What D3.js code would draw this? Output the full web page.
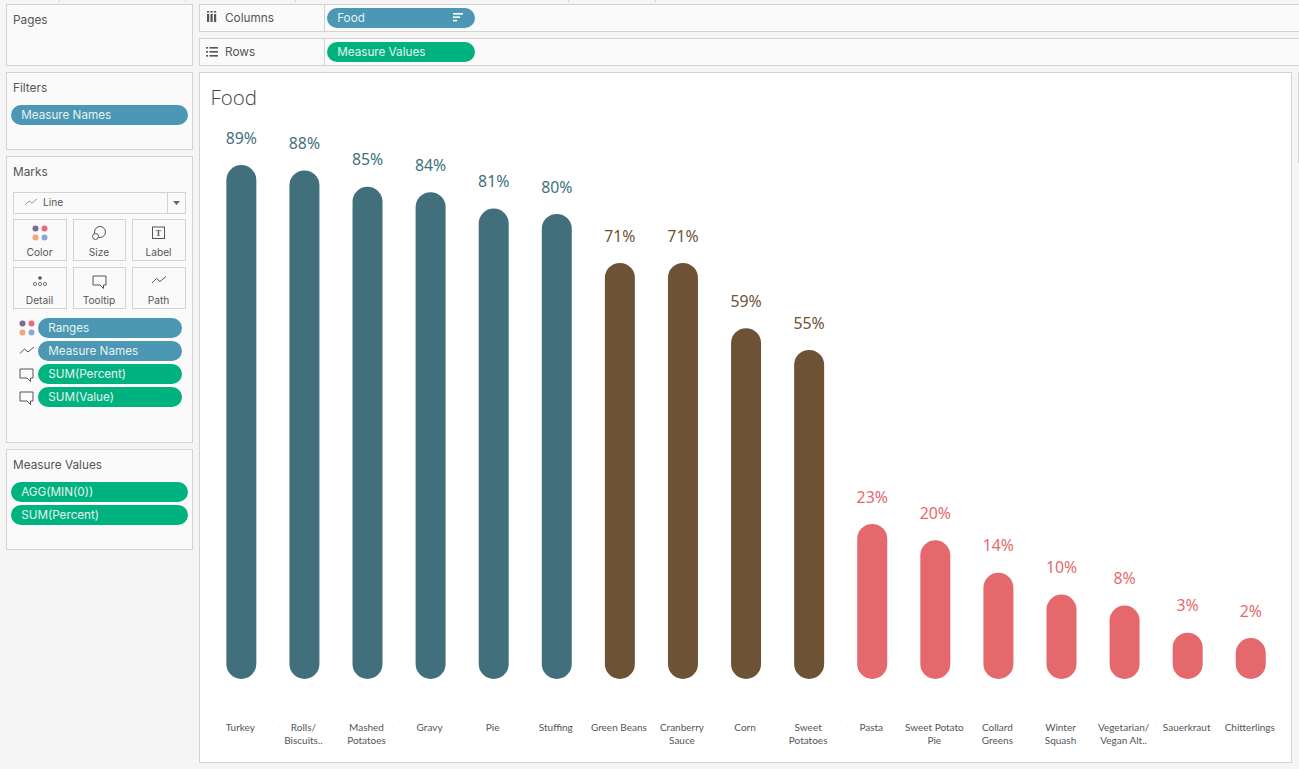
<!DOCTYPE html>
<html><head><meta charset="utf-8">
<script src="https://cdn.jsdelivr.net/npm/d3@7"></script>
<style>
html,body{margin:0;padding:0;background:#f5f5f5;overflow:hidden}
svg{display:block}
text{font-family:Inter,"Noto Sans",sans-serif}
.ui{font-size:11.8px;fill:#555}
.pill{font-size:11.7px;fill:#e6f3f0}
.card{font-size:10.2px;fill:#555;text-anchor:middle}
.value{font-family:"Noto Sans",sans-serif;font-size:15.8px;text-anchor:middle}
.cat{font-family:Lato,sans-serif;font-size:10px;fill:#555;text-anchor:middle}
</style></head><body>
<svg id="c" width="1299" height="769"></svg>
<script>
const categories = ["Turkey","Rolls/\nBiscuits..","Mashed\nPotatoes","Gravy","Pie","Stuffing","Green Beans","Cranberry\nSauce","Corn","Sweet\nPotatoes","Pasta","Sweet Potato\nPie","Collard\nGreens","Winter\nSquash","Vegetarian/\nVegan Alt..","Sauerkraut","Chitterlings"];
const percent = [89,88,85,84,81,80,71,71,59,55,23,20,14,10,8,3,2];
const lowerBound = [0,0,0,0,0,0,0,0,0,0,0,0,0,0,0,0,0];
const ranges = ["High","High","High","High","High","High","Mid","Mid","Mid","Mid","Low","Low","Low","Low","Low","Low","Low"];
const rangeNames = ["High","Mid","Low"];
const rangeColors = ["#41707c","#6e5235","#e5696c"];

const svg = d3.select("#c");
const BLUE="#4b97b4", GREEN="#00b27f", BORDER="#d3d3d3", PANEL="#fafafa";

function box(x0,y0,x1,y1,fill){
  svg.append("rect").attr("x",x0).attr("y",y0).attr("width",x1-x0).attr("height",y1-y0)
    .attr("fill",fill||PANEL).attr("stroke",BORDER).attr("stroke-width",1);
}
function pill(x0,y0,x1,label,color){
  svg.append("rect").attr("x",x0).attr("y",y0).attr("width",x1-x0).attr("height",20).attr("rx",10).attr("fill",color);
  svg.append("text").attr("class","pill").attr("x",x0+10.2).attr("y",y0+14.2).text(label);
}
function label(x,y,t){ svg.append("text").attr("class","ui").attr("x",x).attr("y",y).text(t); }

// top ruler remnants
[59,185,295,568,655].forEach(x=>svg.append("line").attr("x1",x+.5).attr("x2",x+.5).attr("y1",0).attr("y2",2).attr("stroke",BORDER));

// shelves
box(6.5,4.5,192.5,65.5); label(13,24,"Pages");
box(199.5,4.5,1305,31.5); box(199.5,38.5,1305,65.5);
svg.append("line").attr("x1",324.5).attr("x2",324.5).attr("y1",5).attr("y2",31).attr("stroke",BORDER);
svg.append("line").attr("x1",324.5).attr("x2",324.5).attr("y1",39).attr("y2",65).attr("stroke",BORDER);
label(225,22,"Columns"); label(225,56,"Rows");
// columns icon
[207,210.5,214].forEach(x=>{
  svg.append("rect").attr("x",x).attr("y",14).attr("width",2.2).attr("height",8).attr("fill","#555");
  svg.append("rect").attr("x",x).attr("y",11).attr("width",2.2).attr("height",1.6).attr("fill","#555");
});
// rows icon
[47,51,55].forEach(y=>{
  svg.append("rect").attr("x",206).attr("y",y).attr("width",2).attr("height",1.6).attr("fill","#555");
  svg.append("rect").attr("x",209.5).attr("y",y).attr("width",8.5).attr("height",1.6).attr("fill","#555");
});
pill(327,8,475,"Food",BLUE); pill(327,42,475,"Measure Values",GREEN);
[[453,10],[453,7],[453,4]].forEach((d,i)=>svg.append("rect").attr("x",d[0]).attr("y",13+i*3.4).attr("width",d[1]).attr("height",1.6).attr("fill","#fff"));

// filters
box(6.5,72.5,192.5,149.5); label(13,92,"Filters"); pill(11,105,188,"Measure Names",BLUE);

// marks
box(6.5,156.5,192.5,442.5); label(13,176,"Marks");
box(13.5,192.5,185.5,213.5,"#fafafa");
svg.append("line").attr("x1",167.5).attr("x2",167.5).attr("y1",193).attr("y2",213).attr("stroke",BORDER);
svg.append("path").attr("d","M173 201h7l-3.5 4z").attr("fill","#666");
svg.append("path").attr("d","M25 205l4-4 3 2 5-4").attr("fill","none").attr("stroke","#999");
svg.append("text").attr("class","ui").style("font-size","10.2px").attr("x",43).attr("y",206).text("Line");

const cards=[["Color",13.5,66.5,219.5],["Size",73.5,125.5,219.5],["Label",132.5,185.5,219.5],["Detail",13.5,66.5,267.5],["Tooltip",73.5,125.5,267.5],["Path",132.5,185.5,267.5]];
cards.forEach(c=>{
  box(c[1],c[3],c[2],c[3]+41);
  svg.append("text").attr("class","card").attr("x",(c[1]+c[2])/2-0.5).attr("y",c[3]+36).text(c[0]);
});
function dots(cx,cy){
  [[-4.5,-4.5,"#7b6b93"],[4.5,-4.5,"#ea6a7c"],[-4.5,4.5,"#f0a878"],[4.5,4.5,"#8aa8d4"]].forEach(d=>
    svg.append("circle").attr("cx",cx+d[0]).attr("cy",cy+d[1]).attr("r",3).attr("fill",d[2]));
}
function bubble(x,y){
  svg.append("path").attr("d",`M${x} ${y}h13v9h-2.5v3.5l-3.5-3.5h-7z`).attr("fill","none").attr("stroke","#555");
}
function zig(x,y){
  svg.append("path").attr("d",`M${x} ${y+6}l4.5-4.5 3.5 3 6-5`).attr("fill","none").attr("stroke","#555");
}
dots(40,233);
svg.append("circle").attr("cx",100).attr("cy",232).attr("r",5.5).attr("fill","none").attr("stroke","#555");
svg.append("circle").attr("cx",95.5).attr("cy",236.5).attr("r",3).attr("fill",PANEL).attr("stroke","#555");
svg.append("rect").attr("x",152.5).attr("y",227).attr("width",12).attr("height",11.5).attr("fill","none").attr("stroke","#555");
svg.append("text").attr("x",158.5).attr("y",236).attr("text-anchor","middle").attr("font-size",8).attr("font-weight",700).attr("fill","#555").style("font-family","'Liberation Serif',serif").text("T");
svg.append("circle").attr("cx",40).attr("cy",278).attr("r",1.8).attr("fill","#555");
[35,40,45].forEach(x=>svg.append("circle").attr("cx",x).attr("cy",284).attr("r",1.6).attr("fill","none").attr("stroke","#555").attr("stroke-width",.8));
bubble(93,276); zig(152,277);

[["Ranges",318],["Measure Names",341]].forEach(d=>pill(38,d[1],182,d[0],BLUE));
[["SUM(Percent)",364],["SUM(Value)",387]].forEach(d=>pill(38,d[1],182,d[0],GREEN));
dots(27,328); zig(20,347.5); bubble(20,369); bubble(20,392);

// measure values
box(6.5,449.5,192.5,549.5); label(13,469,"Measure Values");
pill(11,482,188,"AGG(MIN(0))",GREEN); pill(11,505,188,"SUM(Percent)",GREEN);

// view
box(199.5,72.5,1291.5,762.5,"#fff");
svg.append("line").attr("x1",1298.5).attr("x2",1298.5).attr("y1",72).attr("y2",163).attr("stroke",BORDER);
svg.append("text").attr("x",210.5).attr("y",105).attr("fill","#444").attr("font-size",20.5).attr("font-weight",300)
  .style("font-family","'Open Sans',sans-serif").text("Food");

// chart
const x = d3.scaleBand().domain(categories).range([209.8,1282.3]);
const y = d3.scaleLinear().domain([0,100]).range([664,120.2]);
const color = d3.scaleOrdinal().domain(rangeNames).range(rangeColors);
const rows = categories.map((c,i)=>({c,p:percent[i],lo:lowerBound[i],r:ranges[i]}));
const cx = d=>x(d.c)+x.bandwidth()/2;
const lineGen = d3.line().x(p=>p[0]).y(p=>y(p[1]));

const g = svg.append("g");
g.selectAll("path").data(rows).join("path")
  .attr("d",d=>lineGen([[cx(d),d.lo],[cx(d),d.p]]))
  .attr("fill","none").attr("stroke-width",30).attr("stroke-linecap","round")
  .attr("stroke",d=>color(d.r));
g.selectAll("text").data(rows).join("text").attr("class","value")
  .attr("x",cx).attr("y",d=>y(d.p)-36.4).attr("fill",d=>color(d.r)).text(d=>d.p+"%");

// category axis
const axis = d3.axisBottom(x).tickSize(0).tickPadding(0).tickFormat("");
const ax = svg.append("g").attr("transform","translate(0,720)").call(axis);
ax.select(".domain").remove();
ax.selectAll(".tick").each(function(c){
  const t = d3.select(this).select("text").text(null).attr("class","cat").attr("fill",null).attr("y",11).attr("dy",null);
  c.split("\n").forEach((s,i)=>t.append("tspan").attr("x",-1).attr("y",11+i*13).text(s));
});
svg.append("g").selectAll("line").data(categories.concat(["end"])).join("line")
  .attr("x1",(d,i)=>x.range()[0]+i*x.step()).attr("x2",(d,i)=>x.range()[0]+i*x.step())
  .attr("y1",719).attr("y2",722).attr("stroke","#f3f3f3");
</script>
</body></html>
